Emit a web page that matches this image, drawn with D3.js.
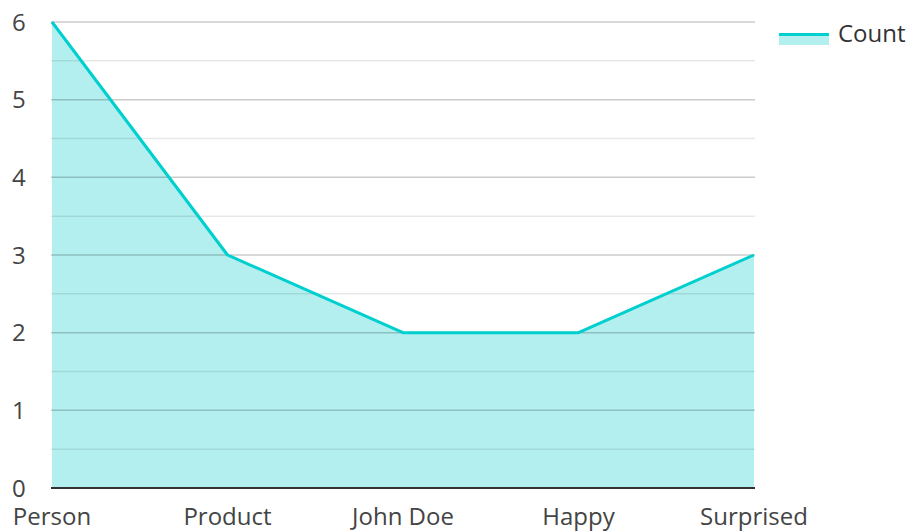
<!DOCTYPE html>
<html><head><meta charset="utf-8">
<script src="https://cdn.jsdelivr.net/npm/d3@7"></script>
<style>body{margin:0;background:#fff;font-family:"Open Sans",sans-serif;}</style>
</head><body><svg id="c" width="911" height="531"></svg>
<script>
const categories = ["Person","Product","John Doe","Happy","Surprised"];
const counts = [6,3,2,2,3];
const yTicks = [0,1,2,3,4,5,6];
const seriesName = "Count";

const svg = d3.select("#c");
const m = {l:52, r:754, t:22, b:488};
const x = d3.scalePoint().domain(categories).range([m.l, m.r]);
const y = d3.scaleLinear().domain([0,6]).range([m.b, m.t]);

const area = d3.area().x((d,i)=>x(categories[i])).y0(y(0)).y1(d=>y(d));
const line = d3.line().x((d,i)=>x(categories[i])).y(d=>y(d));

svg.append("path").datum(counts).attr("d",area).attr("fill","#b2efee");

// grid
const minor = d3.range(0.5,6,1);
svg.append("g").selectAll("line").data(minor).join("line")
  .attr("x1",m.l-1).attr("x2",m.r+1).attr("y1",d=>y(d)).attr("y2",d=>y(d))
  .attr("stroke","rgba(0,0,0,0.09)").attr("stroke-width",1.5);
svg.append("g").selectAll("line").data(yTicks.slice(1)).join("line")
  .attr("x1",m.l-1).attr("x2",m.r+1).attr("y1",d=>y(d)).attr("y2",d=>y(d))
  .attr("stroke","rgba(0,0,0,0.2)").attr("stroke-width",1.5);

svg.append("path").datum(counts).attr("d",line).attr("fill","none")
  .attr("stroke","#00cfcf").attr("stroke-width",3).attr("stroke-linejoin","round");

// axis line
svg.append("line").attr("x1",m.l-1).attr("x2",m.r+1).attr("y1",y(0)).attr("y2",y(0))
  .attr("stroke","#333").attr("stroke-width",2);

// y labels
svg.append("g").selectAll("text").data(yTicks).join("text")
  .attr("x",12).attr("y",d=>y(d)).attr("dy","0.36em")
  .attr("font-size",24).attr("fill","#444").text(d=>d);

// x labels
svg.append("g").selectAll("text").data(categories).join("text")
  .attr("x",d=>x(d)).attr("y",525).attr("text-anchor","middle")
  .attr("font-size",24).attr("fill","#444").text(d=>d);

// legend
const lg = svg.append("g");
lg.append("rect").attr("x",779).attr("y",33).attr("width",50).attr("height",12).attr("fill","#b2efee");
lg.append("line").attr("x1",779).attr("x2",829).attr("y1",34.5).attr("y2",34.5).attr("stroke","#00cfcf").attr("stroke-width",3);
lg.append("text").attr("x",838).attr("y",33).attr("dy","0.36em").attr("font-size",24).attr("fill","#333").text(seriesName);
</script></body></html>
